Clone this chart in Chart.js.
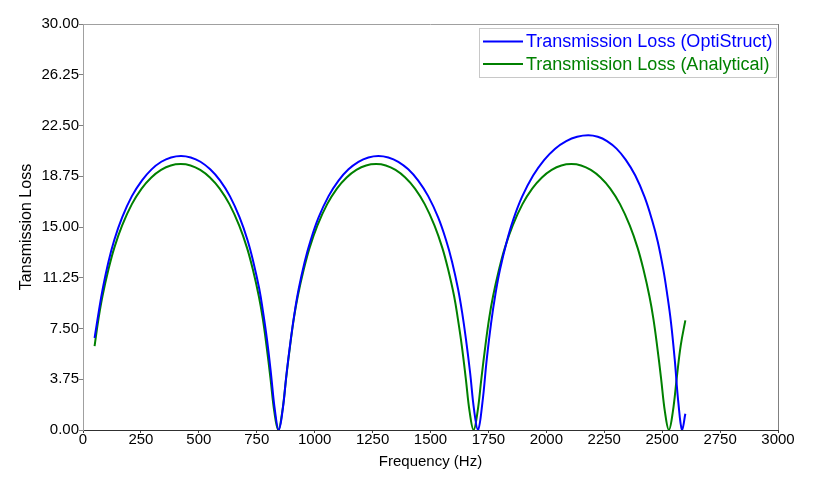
<!DOCTYPE html>
<html>
	<head>
		<title>Transmission Loss</title>
		<script src="https://cdn.jsdelivr.net/npm/chart.js@4.4.0/dist/chart.umd.min.js"></script>
		<style>
			html, body { margin: 0; padding: 0; background: #ffffff; }
			canvas { display: block; }
		</style>
	</head>
	<body>
		<canvas id="myChart" width="821" height="480"></canvas>
		<script>
			// dane
			const seriesLabels = ['Transmission Loss (OptiStruct)', 'Transmission Loss (Analytical)'];
			const seriesColors = ['#0000ff', '#008000'];

			const freqOpti = [
				50, 68, 85, 110, 135, 169, 211, 254, 296, 338, 380, 423, 465, 507, 549, 592, 634, 676, 710, 735, 761, 777, 794, 811, 828, 845,
				862, 879, 897, 914, 931, 957, 983, 1017, 1060, 1103, 1146, 1189, 1232, 1275, 1318, 1361, 1404, 1447, 1490, 1533, 1567, 1593, 1619, 1636, 1653, 1671, 1688, 1705,
				1724, 1743, 1762, 1781, 1800, 1829, 1857, 1895, 1943, 1991, 2038, 2086, 2133, 2181, 2222, 2262, 2303, 2343, 2384, 2424, 2456, 2481, 2505, 2521, 2538, 2554, 2570, 2586, 2600
			];
			const lossOpti = [
				6.8, 8.74, 10.42, 12.44, 14.04, 15.71, 17.28, 18.43, 19.26, 19.82, 20.14, 20.25, 20.14, 19.82, 19.26, 18.43, 17.28, 15.71, 14.04, 12.44, 10.42, 8.74, 6.71, 4.23, 1.50, 0,
				1.50, 4.23, 6.71, 8.74, 10.42, 12.44, 14.04, 15.71, 17.28, 18.43, 19.26, 19.82, 20.14, 20.25, 20.14, 19.82, 19.26, 18.43, 17.28, 15.71, 14.04, 12.44, 10.42, 8.74, 6.71, 4.23, 1.50, 0,
				2.01, 5.25, 7.96, 10.11, 11.85, 13.91, 15.53, 17.22, 18.80, 19.96, 20.79, 21.35, 21.67, 21.78, 21.67, 21.35, 20.79, 19.96, 18.80, 17.22, 15.53, 13.91, 11.85, 10.11, 7.96, 5.25, 2.01, 0, 1.2
			];

			const freqAnalytical = [
				50, 67, 84, 110, 135, 169, 211, 253, 295, 337, 379, 422, 464, 506, 548, 590, 632, 674, 708, 733, 759, 776, 792, 809, 826, 843,
				860, 877, 894, 910, 927, 953, 978, 1012, 1054, 1096, 1138, 1180, 1222, 1265, 1307, 1349, 1391, 1433, 1475, 1517, 1551, 1576, 1602, 1618, 1635, 1652, 1669, 1686,
				1703, 1720, 1737, 1753, 1770, 1796, 1821, 1855, 1897, 1939, 1981, 2023, 2065, 2108, 2150, 2192, 2234, 2276, 2318, 2360, 2394, 2419, 2445, 2462, 2478, 2495, 2512, 2529,
				2546, 2563, 2580, 2600
			];
			const lossAnalytical = [
				6.2, 8.23, 9.88, 11.87, 13.46, 15.12, 16.69, 17.84, 18.66, 19.22, 19.55, 19.65, 19.55, 19.22, 18.66, 17.84, 16.69, 15.12, 13.46, 11.87, 9.88, 8.23, 6.24, 3.86, 1.34, 0,
				1.34, 3.86, 6.24, 8.23, 9.88, 11.87, 13.46, 15.12, 16.69, 17.84, 18.66, 19.22, 19.55, 19.65, 19.55, 19.22, 18.66, 17.84, 16.69, 15.12, 13.46, 11.87, 9.88, 8.23, 6.24, 3.86, 1.34, 0,
				1.34, 3.86, 6.24, 8.23, 9.88, 11.87, 13.46, 15.12, 16.69, 17.84, 18.66, 19.22, 19.55, 19.65, 19.55, 19.22, 18.66, 17.84, 16.69, 15.12, 13.46, 11.87, 9.88, 8.23, 6.24, 3.86, 1.34, 0,
				1.34, 3.86, 6.24, 8.1
			];

			const xTickStep = 250;
			const yTickStep = 3.75;

			const FONT = "'Liberation Sans', Arial, sans-serif";

			function toPoints (xs, ys) {
				return xs.map((x, i) => ({ x: x, y: ys[i] }));
			}

			// ramka wykresu (gorna i prawa linia)
			const framePlugin = {
				id: 'frame',
				beforeDatasetsDraw (chart) {
					const a = chart.chartArea;
					const ctx = chart.ctx;
					ctx.save();
					ctx.lineWidth = 1;
					ctx.strokeStyle = '#a0a0a0';
					ctx.beginPath();
					ctx.moveTo(a.left, a.top + 0.5);
					ctx.lineTo(a.right, a.top + 0.5);
					ctx.stroke();
					ctx.strokeStyle = '#808080';
					ctx.beginPath();
					ctx.moveTo(a.right + 0.5, a.top);
					ctx.lineTo(a.right + 0.5, a.bottom);
					ctx.stroke();
					ctx.restore();
				}
			};

			// legenda wewnatrz obszaru wykresu
			const legendPlugin = {
				id: 'insideLegend',
				afterDatasetsDraw (chart) {
					const ctx = chart.ctx;
					const boxLeft = 479, boxTop = 28, boxRight = 777, boxBottom = 78;
					ctx.save();
					ctx.fillStyle = '#ffffff';
					ctx.fillRect(boxLeft, boxTop, boxRight - boxLeft, boxBottom - boxTop);
					ctx.strokeStyle = '#c8c8c8';
					ctx.lineWidth = 1;
					ctx.strokeRect(boxLeft + 0.5, boxTop + 0.5, boxRight - boxLeft - 1, boxBottom - boxTop - 1);
					ctx.font = '18px ' + FONT;
					ctx.textBaseline = 'middle';
					ctx.textAlign = 'left';
					const rows = [41.5, 64];
					chart.data.datasets.forEach((ds, i) => {
						const y = rows[i];
						ctx.strokeStyle = ds.borderColor;
						ctx.lineWidth = 2;
						ctx.beginPath();
						ctx.moveTo(483, y);
						ctx.lineTo(523, y);
						ctx.stroke();
						ctx.fillStyle = ds.borderColor;
						ctx.fillText(ds.label, 526, y + 1);
					});
					ctx.restore();
				}
			};

			var ctx = document.getElementById('myChart').getContext('2d');
			var chart = new Chart(ctx, {
				type: 'line',
				data: {
					datasets: [{
						label: seriesLabels[0],
						data: toPoints(freqOpti, lossOpti),
						borderColor: seriesColors[0],
						backgroundColor: seriesColors[0],
						borderWidth: 2,
						pointRadius: 0,
						tension: 0.4,
						fill: false
					}, {
						label: seriesLabels[1],
						data: toPoints(freqAnalytical, lossAnalytical),
						borderColor: seriesColors[1],
						backgroundColor: seriesColors[1],
						borderWidth: 2,
						pointRadius: 0,
						tension: 0.4,
						fill: false
					}]
				},
				options: {
					responsive: false,
					animation: false,
					layout: { padding: { top: 24, right: 43, left: 0, bottom: 0 } },
					plugins: {
						legend: { display: false },
						tooltip: { enabled: false }
					},
					scales: {
						x: {
							type: 'linear',
							min: 0,
							max: 3000,
							afterFit: (s) => { s.height = 50; },
							ticks: {
								stepSize: xTickStep,
								autoSkip: false,
								maxRotation: 0,
								padding: -2,
								color: '#000000',
								font: { family: FONT, size: 15 },
								callback: (v) => String(v)
							},
							grid: { drawOnChartArea: false, tickLength: 3, color: '#404040' },
							border: { color: '#303030', width: 1 },
							title: {
								display: true,
								text: 'Frequency (Hz)',
								color: '#000000',
								font: { family: FONT, size: 15 },
								padding: { top: 9, bottom: 9 }
							}
						},
						y: {
							min: 0,
							max: 30,
							afterFit: (s) => { s.width = 83; },
							ticks: {
								stepSize: yTickStep,
								padding: 0,
								color: '#000000',
								font: { family: FONT, size: 15 },
								callback: (v) => v.toFixed(2)
							},
							grid: { drawOnChartArea: false, tickLength: 4, color: '#808080' },
							border: { color: '#a0a0a0', width: 1 },
							title: {
								display: true,
								text: 'Tansmission Loss',
								color: '#000000',
								font: { family: FONT, size: 16 },
								padding: { top: 17, bottom: 17 }
							}
						}
					}
				},
				plugins: [framePlugin, legendPlugin]
			});
		</script>
	</body>
</html>
